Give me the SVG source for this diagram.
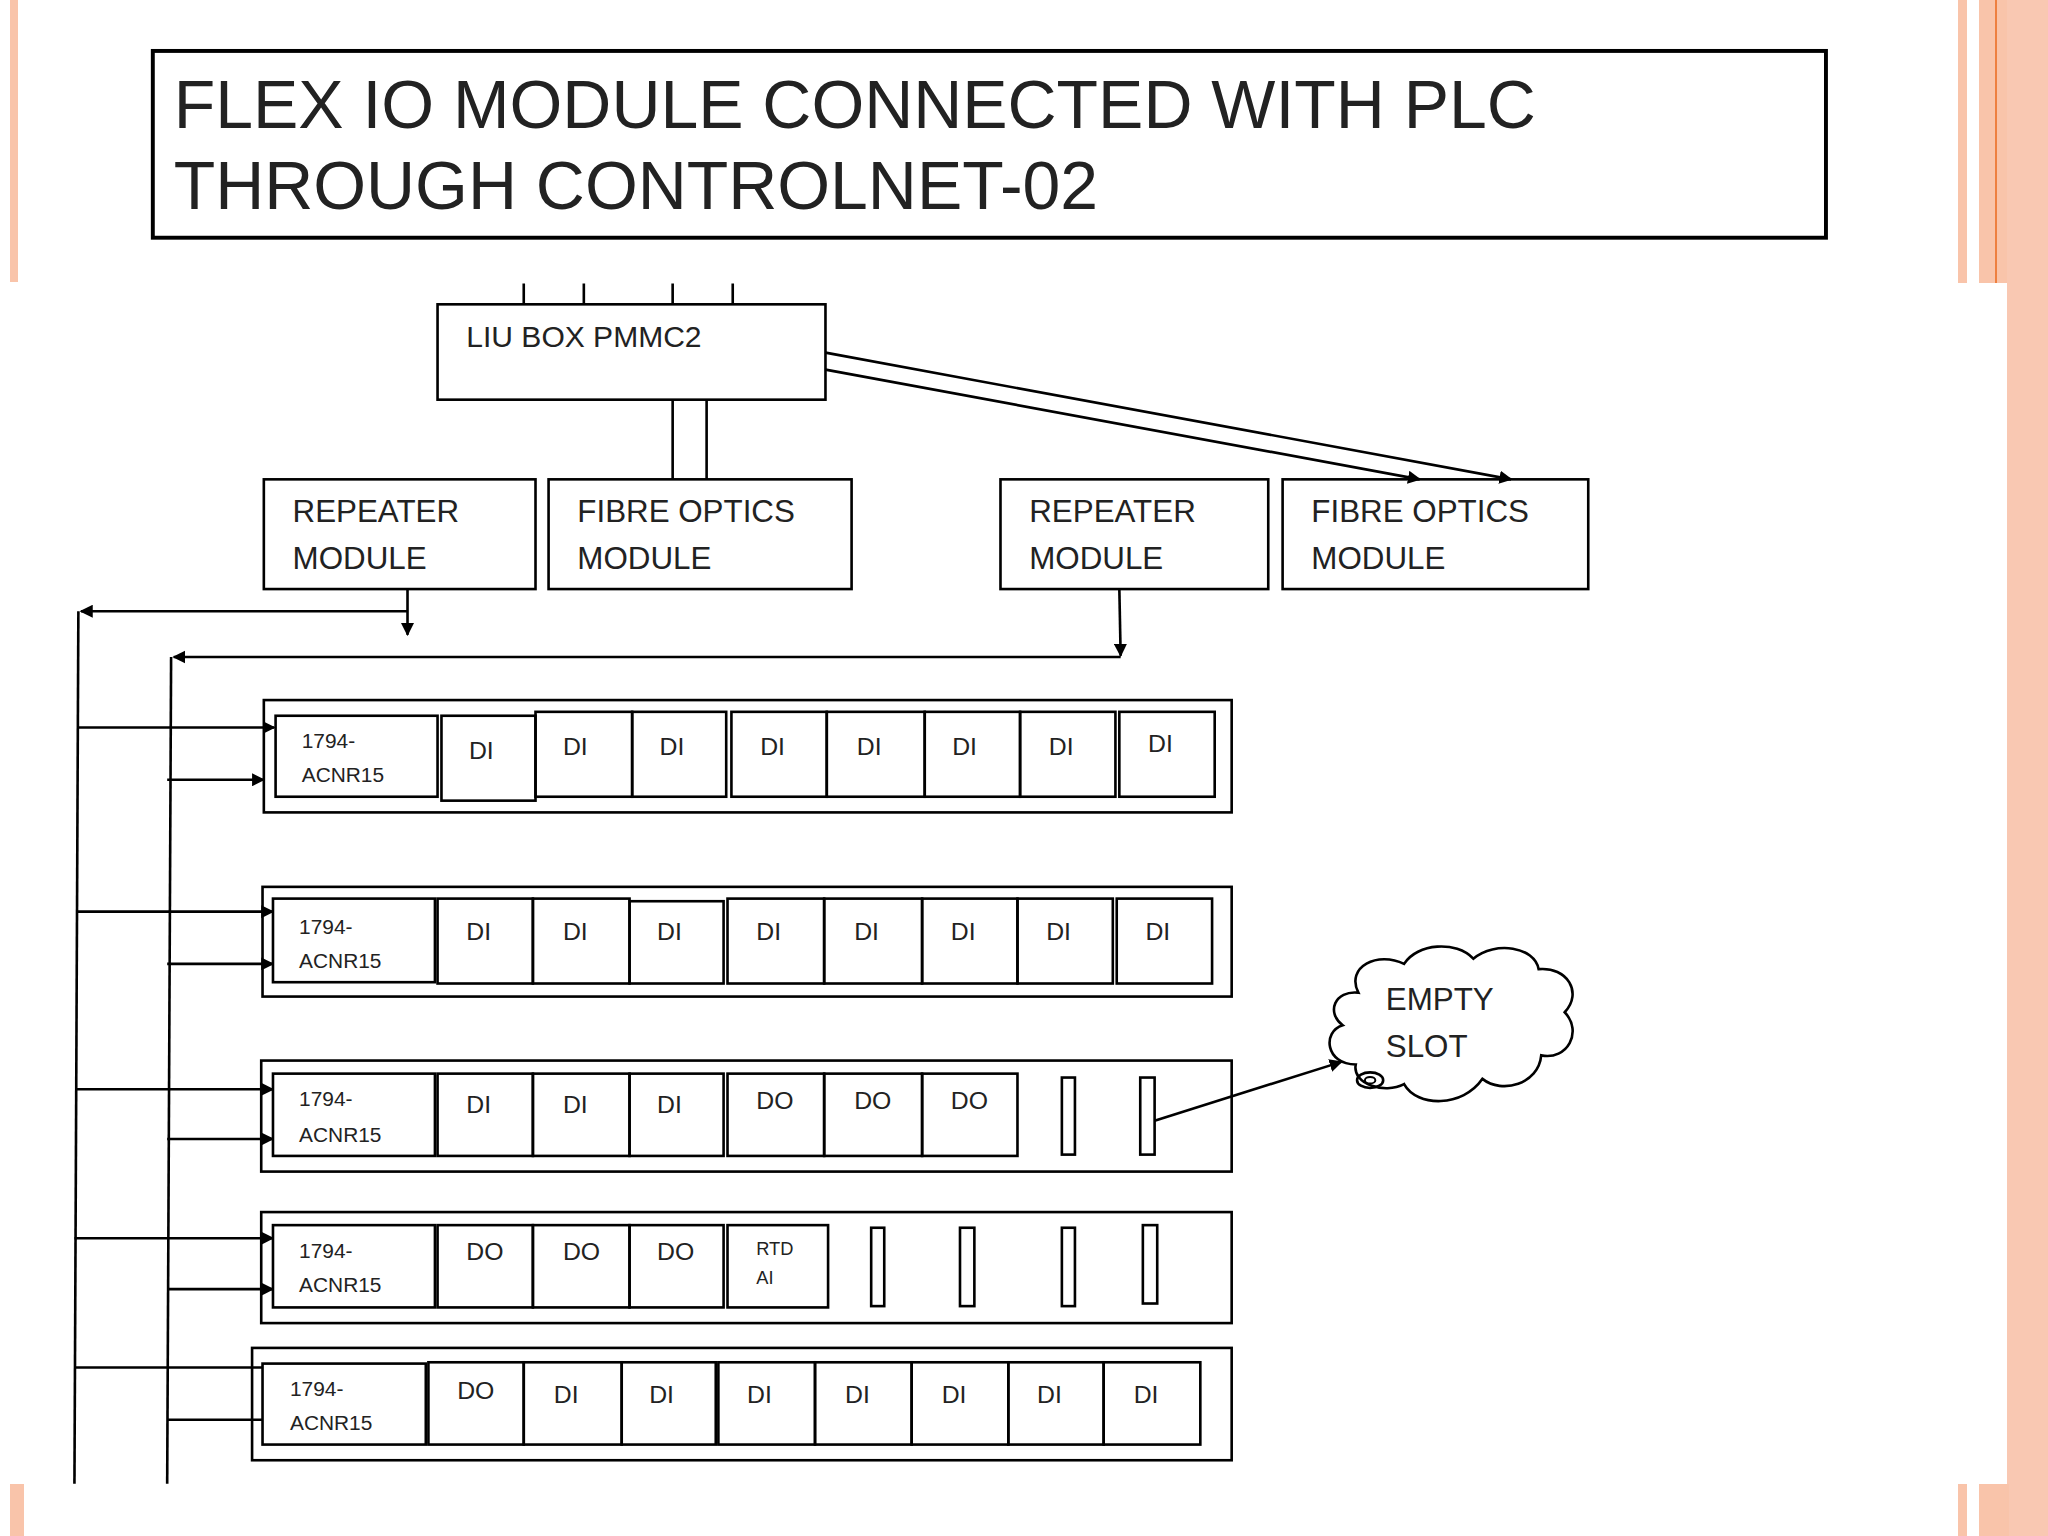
<svg xmlns="http://www.w3.org/2000/svg" width="2048" height="1536" viewBox="0 0 2048 1536">
<defs>
<style>
.b{fill:none;stroke:#000;stroke-width:2}
.t{font-family:"Liberation Sans",Arial,sans-serif;fill:#222}
.m{font-size:24px}
.c{font-size:19px}
.a{font-size:16px}
.l{stroke:#000;stroke-width:2;fill:none}
</style>
<marker id="ah" markerWidth="10" markerHeight="10" refX="9" refY="5" orient="auto" markerUnits="userSpaceOnUse"><path d="M0,0 L10,5 L0,10 z" fill="#000"/></marker>
</defs>
<rect width="2048" height="1536" fill="#fff"/>
<g id="decor">
<rect x="10" y="0" width="8" height="282" fill="#f9c4aa"/>
<rect x="1958" y="0" width="9" height="283" fill="#f9c4aa"/>
<rect x="1979" y="0" width="30" height="283" fill="#f9c4aa"/>
<rect x="2007" y="0" width="41" height="1536" fill="#f9c8b2"/>
<line x1="1996" y1="0" x2="1996" y2="283" stroke="#ee8040" stroke-width="2"/>
<rect x="10" y="1484" width="14" height="52" fill="#f9c4aa"/>
<rect x="1958" y="1484" width="9" height="52" fill="#f9c4aa"/>
<rect x="1979" y="1484" width="30" height="52" fill="#f9c4aa"/>
</g>
<g transform="scale(1.30612)">
<g id="title">
<rect x="117" y="39" width="1281" height="143" fill="none" stroke="#000" stroke-width="3"/>
<text class="t" x="133" y="98" font-size="52" fill="#000">FLEX IO MODULE CONNECTED WITH PLC</text>
<text class="t" x="133" y="160" font-size="52" fill="#000">THROUGH CONTROLNET-02</text>
</g>
<g id="liu">
<rect class="b" x="335" y="233" width="297" height="73"/>
<text class="t" x="357" y="266" font-size="23">LIU BOX PMMC2</text>
</g>
<g id="rep1"><rect class="b" x="202" y="367" width="208" height="84"/><text class="t m" x="224" y="400">REPEATER</text><text class="t m" x="224" y="436">MODULE</text></g>
<g id="fib1"><rect class="b" x="420" y="367" width="232" height="84"/><text class="t m" x="442" y="400">FIBRE OPTICS</text><text class="t m" x="442" y="436">MODULE</text></g>
<g id="rep2"><rect class="b" x="766" y="367" width="205" height="84"/><text class="t m" x="788" y="400">REPEATER</text><text class="t m" x="788" y="436">MODULE</text></g>
<g id="fib2"><rect class="b" x="982" y="367" width="234" height="84"/><text class="t m" x="1004" y="400">FIBRE OPTICS</text><text class="t m" x="1004" y="436">MODULE</text></g>

<g id="connectors">
<path class="l" d="M401,217V233M447,217V233M515,217V233M561,217V233"/>
<path class="l" d="M515,306V367M541,306V367"/>
<line class="l" x1="632" y1="270" x2="1157" y2="367" marker-end="url(#ah)"/>
<line class="l" x1="632" y1="283" x2="1087" y2="367" marker-end="url(#ah)"/>
<line class="l" x1="312" y1="451" x2="312" y2="486" marker-end="url(#ah)"/>
<line class="l" x1="312" y1="468" x2="62" y2="468" marker-end="url(#ah)"/>
<line class="l" x1="60" y1="468" x2="57" y2="1136"/>
<line class="l" x1="857" y1="451" x2="858" y2="502" marker-end="url(#ah)"/>
<line class="l" x1="858" y1="503" x2="133" y2="503" marker-end="url(#ah)"/>
<line class="l" x1="131" y1="503" x2="128" y2="1136"/>
<line class="l" x1="60" y1="557" x2="210" y2="557" marker-end="url(#ah)"/>
<line class="l" x1="128" y1="597" x2="202" y2="597" marker-end="url(#ah)"/>
<line class="l" x1="59" y1="698" x2="209" y2="698" marker-end="url(#ah)"/>
<line class="l" x1="128" y1="738" x2="209" y2="738" marker-end="url(#ah)"/>
<line class="l" x1="58" y1="834" x2="209" y2="834" marker-end="url(#ah)"/>
<line class="l" x1="128" y1="872" x2="209" y2="872" marker-end="url(#ah)"/>
<line class="l" x1="57" y1="948" x2="209" y2="948" marker-end="url(#ah)"/>
<line class="l" x1="128" y1="987" x2="209" y2="987" marker-end="url(#ah)"/>
<line class="l" x1="57" y1="1047" x2="201" y2="1047"/>
<line class="l" x1="128" y1="1087" x2="201" y2="1087"/>
<line class="l" x1="884" y1="858" x2="1027" y2="813" marker-end="url(#ah)"/>
</g>

<g id="row1">
<rect class="b" x="202" y="536" width="741" height="86"/>
<rect class="b" x="211" y="548" width="124" height="62"/>
<text class="t a" x="231" y="573">1794-</text><text class="t a" x="231" y="599">ACNR15</text>
<rect class="b" x="338" y="548" width="72" height="65"/><text class="t c" x="359" y="581">DI</text>
<rect class="b" x="410" y="545" width="74" height="65"/><text class="t c" x="431" y="578">DI</text>
<rect class="b" x="484" y="545" width="72" height="65"/><text class="t c" x="505" y="578">DI</text>
<rect class="b" x="560" y="545" width="73" height="65"/><text class="t c" x="582" y="578">DI</text>
<rect class="b" x="633" y="545" width="75" height="65"/><text class="t c" x="656" y="578">DI</text>
<rect class="b" x="708" y="545" width="73" height="65"/><text class="t c" x="729" y="578">DI</text>
<rect class="b" x="781" y="545" width="73" height="65"/><text class="t c" x="803" y="578">DI</text>
<rect class="b" x="857" y="545" width="73" height="65"/><text class="t c" x="879" y="576">DI</text>
</g>
<g id="row2">
<rect class="b" x="201" y="679" width="742" height="84"/>
<rect class="b" x="209" y="688" width="124" height="64"/>
<text class="t a" x="229" y="715">1794-</text><text class="t a" x="229" y="741">ACNR15</text>
<rect class="b" x="335" y="688" width="73" height="65"/><text class="t c" x="357" y="720">DI</text>
<rect class="b" x="408" y="688" width="74" height="65"/><text class="t c" x="431" y="720">DI</text>
<rect class="b" x="482" y="690" width="72" height="63"/><text class="t c" x="503" y="720">DI</text>
<rect class="b" x="557" y="688" width="74" height="65"/><text class="t c" x="579" y="720">DI</text>
<rect class="b" x="631" y="688" width="75" height="65"/><text class="t c" x="654" y="720">DI</text>
<rect class="b" x="706" y="688" width="73" height="65"/><text class="t c" x="728" y="720">DI</text>
<rect class="b" x="779" y="688" width="73" height="65"/><text class="t c" x="801" y="720">DI</text>
<rect class="b" x="855" y="688" width="73" height="65"/><text class="t c" x="877" y="720">DI</text>
</g>
<g id="row3">
<rect class="b" x="200" y="812" width="743" height="85"/>
<rect class="b" x="209" y="822" width="124" height="63"/>
<text class="t a" x="229" y="847">1794-</text><text class="t a" x="229" y="874">ACNR15</text>
<rect class="b" x="335" y="822" width="73" height="63"/><text class="t c" x="357" y="852">DI</text>
<rect class="b" x="408" y="822" width="74" height="63"/><text class="t c" x="431" y="852">DI</text>
<rect class="b" x="482" y="822" width="72" height="63"/><text class="t c" x="503" y="852">DI</text>
<rect class="b" x="557" y="822" width="74" height="63"/><text class="t c" x="579" y="849">DO</text>
<rect class="b" x="631" y="822" width="75" height="63"/><text class="t c" x="654" y="849">DO</text>
<rect class="b" x="706" y="822" width="73" height="63"/><text class="t c" x="728" y="849">DO</text>
<rect class="b" x="813" y="825" width="10" height="59"/>
<rect class="b" x="873" y="825" width="11" height="59"/>
</g>
<g id="row4">
<rect class="b" x="200" y="928" width="743" height="85"/>
<rect class="b" x="209" y="938" width="124" height="63"/>
<text class="t a" x="229" y="963">1794-</text><text class="t a" x="229" y="989">ACNR15</text>
<rect class="b" x="335" y="938" width="73" height="63"/><text class="t c" x="357" y="965">DO</text>
<rect class="b" x="408" y="938" width="74" height="63"/><text class="t c" x="431" y="965">DO</text>
<rect class="b" x="482" y="938" width="72" height="63"/><text class="t c" x="503" y="965">DO</text>
<rect class="b" x="557" y="938" width="77" height="63"/><text class="t" font-size="14" x="579" y="961">RTD</text><text class="t" font-size="14" x="579" y="983">AI</text>
<rect class="b" x="667" y="940" width="10" height="60"/>
<rect class="b" x="735" y="940" width="11" height="60"/>
<rect class="b" x="813" y="940" width="10" height="60"/>
<rect class="b" x="875" y="938" width="11" height="60"/>
</g>
<g id="row5">
<rect class="b" x="193" y="1032" width="750" height="86"/>
<rect class="b" x="201" y="1044" width="125" height="62"/>
<text class="t a" x="222" y="1069">1794-</text><text class="t a" x="222" y="1095">ACNR15</text>
<rect class="b" x="328" y="1043" width="73" height="63"/><text class="t c" x="350" y="1071">DO</text>
<rect class="b" x="401" y="1043" width="75" height="63"/><text class="t c" x="424" y="1074">DI</text>
<rect class="b" x="476" y="1043" width="72" height="63"/><text class="t c" x="497" y="1074">DI</text>
<rect class="b" x="550" y="1043" width="74" height="63"/><text class="t c" x="572" y="1074">DI</text>
<rect class="b" x="624" y="1043" width="74" height="63"/><text class="t c" x="647" y="1074">DI</text>
<rect class="b" x="698" y="1043" width="74" height="63"/><text class="t c" x="721" y="1074">DI</text>
<rect class="b" x="772" y="1043" width="73" height="63"/><text class="t c" x="794" y="1074">DI</text>
<rect class="b" x="845" y="1043" width="74" height="63"/><text class="t c" x="868" y="1074">DI</text>
</g>
<g id="cloud">
<path class="b" d="M1040,760 C1030,740 1055,728 1075,738 C1085,722 1115,720 1128,734 C1145,720 1175,725 1178,742 C1200,740 1212,760 1198,775 C1212,790 1200,812 1180,808 C1178,830 1150,838 1135,826 C1120,848 1085,848 1075,830 C1060,838 1035,830 1038,815 C1015,815 1012,790 1028,785 C1015,775 1022,758 1040,760 Z"/>
<ellipse class="b" cx="1049" cy="827" rx="10" ry="6"/>
<ellipse cx="1049" cy="827" rx="4" ry="2.5" fill="none" stroke="#000" stroke-width="1.5"/>
<text class="t m" x="1061" y="773">EMPTY</text>
<text class="t m" x="1061" y="809">SLOT</text>
</g>
</g>
</svg>
